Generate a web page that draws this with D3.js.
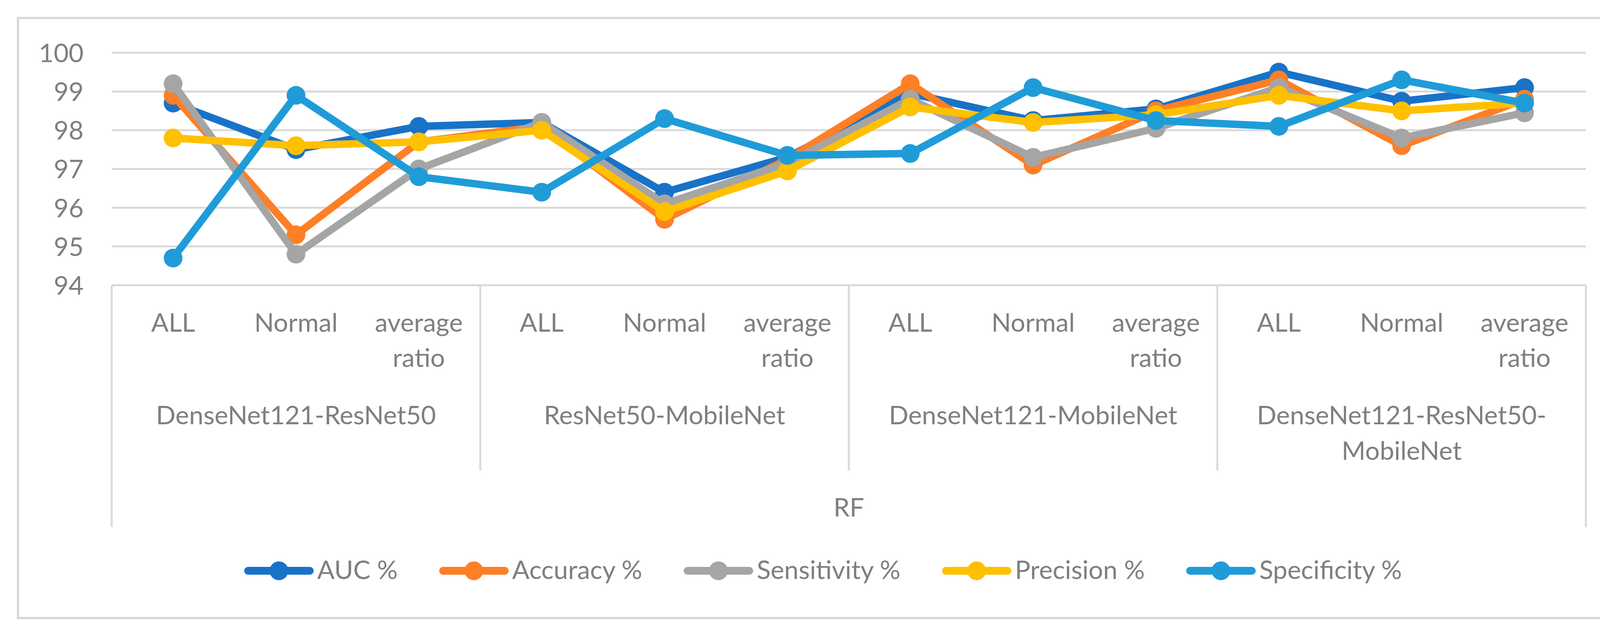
<!DOCTYPE html>
<html>
<head>
<meta charset="utf-8">
<script src="https://cdn.jsdelivr.net/npm/d3@7"></script>
<style>
html,body{margin:0;padding:0;background:#fff;}
svg{display:block;}
</style>
</head>
<body>
<svg id="chart"></svg>
<script>
// ---------------- data ----------------
const groups = ["DenseNet121-ResNet50", "ResNet50-MobileNet", "DenseNet121-MobileNet", "DenseNet121-ResNet50-MobileNet"];
const subCategories = ["ALL", "Normal", "average ratio"];
const outerCategory = "RF";
const seriesNames = ["AUC %", "Accuracy %", "Sensitivity %", "Precision %", "Specificity %"];
const aucValues         = [98.7, 97.5, 98.1,  98.2, 96.4, 97.3,  98.95, 98.25, 98.55,  99.5, 98.75, 99.1];
const accuracyValues    = [98.9, 95.3, 97.7,  98.1, 95.7, 97.25, 99.2,  97.1,  98.5,   99.3, 97.6,  98.8];
const sensitivityValues = [99.2, 94.8, 97.0,  98.2, 96.1, 97.15, 98.8,  97.3,  98.05,  99.1, 97.8,  98.45];
const precisionValues   = [97.8, 97.6, 97.7,  98.0, 95.9, 96.95, 98.6,  98.2,  98.4,   98.9, 98.5,  98.7];
const specificityValues = [94.7, 98.9, 96.8,  96.4, 98.3, 97.35, 97.4,  99.1,  98.25,  98.1, 99.3,  98.7];
const yTicks = [94, 95, 96, 97, 98, 99, 100];

// ---------------- styles ----------------
const W = 4190, H = 1610;
const FONT = "Lato, 'Open Sans', sans-serif";
const FS = 66;
const TEXT = "#7f7f7f";
const GRID = "#d9d9d9";
const colors = ["#1873c8", "#fe7f26", "#a5a5a5", "#ffc000", "#1f9cd8"];
const seriesValues = [aucValues, accuracyValues, sensitivityValues, precisionValues, specificityValues];

const plot = {left: 286, right: 4060, top: 135, bottom: 730};

const svg = d3.select("#chart").attr("width", W).attr("height", H)
  .style("font-family", FONT).style("font-size", FS + "px");

svg.append("rect").attr("width", W).attr("height", H).attr("fill", "#fff");

// chart border
svg.append("rect").attr("x", 46).attr("y", 46).attr("width", 4103).attr("height", 1536)
  .attr("fill", "none").attr("stroke", GRID).attr("stroke-width", 6);

const nCat = groups.length * subCategories.length;
const x = d3.scalePoint().domain(d3.range(nCat)).range([plot.left, plot.right]).padding(0.5);
const y = d3.scaleLinear().domain([d3.min(yTicks), d3.max(yTicks)]).range([plot.bottom, plot.top]);
const step = x.step();

// gridlines
svg.append("g").selectAll("line").data(yTicks).join("line")
  .attr("x1", plot.left).attr("x2", plot.right)
  .attr("y1", d => y(d)).attr("y2", d => y(d))
  .attr("stroke", GRID).attr("stroke-width", 5);

// y axis labels
const yAxis = svg.append("g").attr("transform", "translate(214,0)")
  .call(d3.axisLeft(y).tickValues(yTicks).tickSize(0).tickPadding(0).tickFormat(d3.format("d")));
yAxis.select(".domain").remove();
yAxis.selectAll("text").attr("fill", TEXT).attr("dy", "0.355em")
  .style("font-family", FONT).style("font-size", FS + "px");

// measuring helper
const meas = svg.append("text").attr("x", -9999).attr("y", -9999)
  .style("font-family", FONT).style("font-size", FS + "px");
function tw(s) { meas.text(s); return meas.node().getComputedTextLength(); }
function wrap(text, maxW) {
  const tokens = [];
  text.split(" ").forEach((w, i) => {
    w.split(/(?<=-)/).forEach((p, j) => tokens.push({t: p, sp: i > 0 && j === 0}));
  });
  const lines = []; let cur = "";
  tokens.forEach(tok => {
    const cand = cur === "" ? tok.t : cur + (tok.sp ? " " : "") + tok.t;
    if (cur !== "" && tw(cand) > maxW) { lines.push(cur); cur = tok.t; }
    else cur = cand;
  });
  lines.push(cur);
  return lines;
}

// category labels
const cats = d3.range(nCat).map(i => ({i, label: subCategories[i % subCategories.length]}));
const catG = svg.append("g");
cats.forEach(c => {
  const lines = wrap(c.label, step - 24);
  lines.forEach((ln, k) => {
    catG.append("text").attr("x", x(c.i)).attr("y", 849 + k * 90)
      .attr("text-anchor", "middle").attr("fill", TEXT).text(ln);
  });
});

// group labels
const grpG = svg.append("g");
groups.forEach((g, gi) => {
  const n = subCategories.length;
  const cx = (x(gi * n) + x(gi * n + n - 1)) / 2;
  const lines = wrap(g, step * n - 40);
  lines.forEach((ln, k) => {
    grpG.append("text").attr("x", cx).attr("y", 1086 + k * 91)
      .attr("text-anchor", "middle").attr("fill", TEXT).text(ln);
  });
});

// outer category label
svg.append("text").attr("x", (plot.left + plot.right) / 2).attr("y", 1322)
  .attr("text-anchor", "middle").attr("fill", TEXT).text(outerCategory);

// separator lines
const sepG = svg.append("g");
d3.range(groups.length + 1).forEach(k => {
  const xx = plot.left + k * step * subCategories.length;
  const outer = (k === 0 || k === groups.length);
  sepG.append("line").attr("x1", xx).attr("x2", xx).attr("y1", plot.bottom)
    .attr("y2", outer ? 1349 : 1204).attr("stroke", GRID).attr("stroke-width", 5);
});

// series
const line = d3.line().x((d, i) => x(i)).y(d => y(d));
seriesValues.forEach((vals, si) => {
  const g = svg.append("g");
  g.append("path").attr("d", line(vals)).attr("fill", "none")
    .attr("stroke", colors[si]).attr("stroke-width", 19)
    .attr("stroke-linejoin", "round").attr("stroke-linecap", "round");
  g.selectAll("circle").data(vals).join("circle")
    .attr("cx", (d, i) => x(i)).attr("cy", d => y(d)).attr("r", 24)
    .attr("fill", colors[si]);
});

// legend
const legY = 1461, legBase = 1482, lineLen = 178, gapText = 9, gapItem = 106;
const widths = seriesNames.map(tw);
const total = d3.sum(widths) + seriesNames.length * (lineLen + gapText) + (seriesNames.length - 1) * gapItem;
let lx = 2107 - total / 2;
const legG = svg.append("g");
seriesNames.forEach((nm, si) => {
  legG.append("line").attr("x1", lx + 10).attr("x2", lx + lineLen - 10)
    .attr("y1", legY).attr("y2", legY).attr("stroke", colors[si])
    .attr("stroke-width", 20).attr("stroke-linecap", "round");
  legG.append("circle").attr("cx", lx + lineLen / 2).attr("cy", legY).attr("r", 24).attr("fill", colors[si]);
  legG.append("text").attr("x", lx + lineLen + gapText).attr("y", legBase).attr("fill", TEXT).text(nm);
  lx += lineLen + gapText + widths[si] + gapItem;
});
meas.remove();
</script>
</body>
</html>
